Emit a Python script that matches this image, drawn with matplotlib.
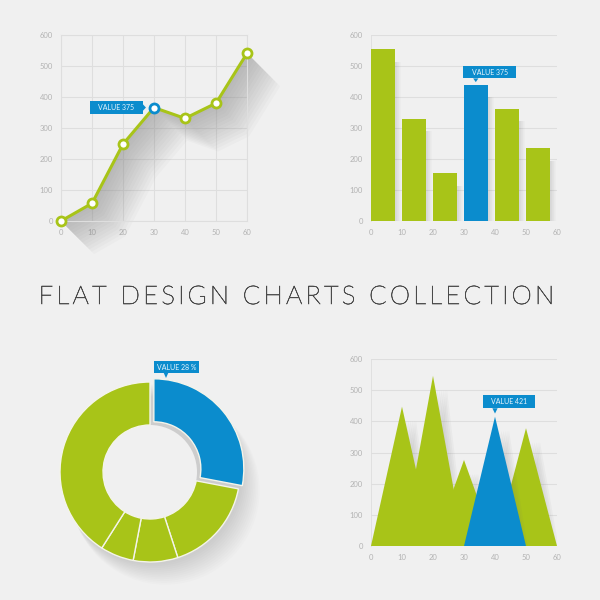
import matplotlib
matplotlib.use("Agg")
import matplotlib.pyplot as plt
from matplotlib.patches import Polygon, Rectangle
import matplotlib.transforms as mtransforms
import matplotlib.patheffects as pe
import numpy as np

# ---------------- data ----------------
line_x = [0, 10, 20, 30, 40, 50, 60]
line_y = [0, 57, 248, 366, 331, 380, 541]
line_highlight = 3

bar_x = [0, 10, 20, 30, 40, 50]
bar_h = [554, 330, 154, 439, 361, 234]
bar_highlight = 3

donut_vals = [28, 17, 8, 6, 41]
donut_highlight = 0

peak_x = [10, 20, 30, 40, 50]
peak_h = [447, 546, 276, 415, 378]
peak_highlight = 3

x_ticks = [0, 10, 20, 30, 40, 50, 60]
y_ticks = [0, 100, 200, 300, 400, 500, 600]

label_line = "VALUE 375"
label_bar = "VALUE 375"
label_donut = "VALUE 28 %"
label_peak = "VALUE 421"
title = "FLAT DESIGN CHARTS COLLECTION"

# ---------------- style ----------------
BG = "#f0f0f0"
GREEN = "#a8c418"
BLUE = "#0b8ccd"
GRID = "#dedede"
TICK = "#b3b3b3"
FONT = ["Lato", "DejaVu Sans"]

plt.rcParams["font.family"] = FONT

fig = plt.figure(figsize=(6, 6), dpi=100, facecolor=BG)


def base_axes(rect):
    ax = fig.add_axes(rect)
    ax.set_facecolor("none")
    ax.set_xlim(0, 60)
    ax.set_ylim(0, 600)
    ax.set_xticks(x_ticks)
    ax.set_yticks(y_ticks)
    ax.tick_params(length=0, labelsize=5.5, labelcolor=TICK, pad=6)
    return ax


def tooltip(ax, x0, x1, y0, y1, text, px, py, direction="down"):
    ax.add_patch(Rectangle((x0, y0), x1 - x0, y1 - y0, facecolor=BLUE,
                           edgecolor="none", zorder=10, clip_on=False))
    if direction == "down":
        w = (x1 - x0) * 0.05
        tri = [(px - w, y0), (px + w, y0), (px, py)]
    else:
        h = (y1 - y0) * 0.25
        tri = [(x1, py - h), (x1, py + h), (px, py)]
    ax.add_patch(Polygon(tri, closed=True, facecolor=BLUE, edgecolor="none",
                         zorder=10, clip_on=False))
    ax.text((x0 + x1) / 2, (y0 + y1) / 2, text, color="#e6f4fc", fontsize=5,
            ha="center", va="center", zorder=11)


# ---------------- top-left: line chart ----------------
ax1 = base_axes([61 / 600, 1 - 221 / 600, 186 / 600, 186 / 600])
ax1.grid(True, color=GRID, linewidth=0.8)
ax1.set_axisbelow(True)
for s in ax1.spines.values():
    s.set_color(GRID)
    s.set_linewidth(0.8)

pts = np.column_stack([line_x, line_y])
n_layers = 14
fig.canvas.draw()
for i in range(1, n_layers + 1):
    d = i * 1.7 / 72.0
    off = mtransforms.ScaledTranslation(d, -d, fig.dpi_scale_trans)
    disp_orig = ax1.transData.transform(pts)
    disp_shift = (ax1.transData + off).transform(pts)
    verts = np.vstack([disp_orig, disp_shift[::-1]])
    verts_data = ax1.transData.inverted().transform(verts)
    ax1.add_patch(Polygon(verts_data, closed=True, facecolor="#808080",
                          edgecolor="none", alpha=0.045, zorder=1,
                          clip_on=False))

ax1.plot(line_x, line_y, color=GREEN, linewidth=2.2, zorder=3,
         solid_capstyle="round")
for i, (x, y) in enumerate(zip(line_x, line_y)):
    ec = BLUE if i == line_highlight else GREEN
    ax1.plot([x], [y], marker="o", markersize=6.5, markerfacecolor="white",
             markeredgecolor=ec, markeredgewidth=2, zorder=4, clip_on=False)

tooltip(ax1, 9.4, 26.4, 344, 387, label_line, 27.4,
        line_y[line_highlight], direction="right")

# ---------------- top-right: bar chart ----------------
ax2 = base_axes([371 / 600, 1 - 221 / 600, 186 / 600, 186 / 600])
ax2.yaxis.grid(True, color=GRID, linewidth=0.8)
ax2.set_axisbelow(True)
for k, s in ax2.spines.items():
    s.set_visible(k == "left")
    s.set_color(GRID)
    s.set_linewidth(0.6)

bw = 7.8
for j in range(8):
    for x, h in zip(bar_x, bar_h):
        ax2.add_patch(Rectangle((x + bw, 0), 0.22 * (j + 1), h - 40,
                                facecolor="#808080", edgecolor="none",
                                alpha=0.028, zorder=1))
colors2 = [BLUE if i == bar_highlight else GREEN for i in range(len(bar_x))]
ax2.bar(bar_x, bar_h, width=bw, align="edge", color=colors2, zorder=3)

tooltip(ax2, 29.8, 46.7, 460, 501, label_bar, 33.8, 448, direction="down")

# ---------------- title ----------------
THIN = "\u2009"
spaced_title = THIN.join(title)
fig.text(0.496, 1 - 297 / 600, spaced_title, ha="center", va="center",
         fontsize=18.5, color="#4a4a4a", fontweight="light",
         family=FONT,
         path_effects=[pe.withStroke(linewidth=0.45, foreground="#4a4a4a")])

# ---------------- bottom-left: donut ----------------
ax3 = fig.add_axes([30 / 600, 1 - 592 / 600, 240 / 600, 240 / 600])
ax3.set_xlim(-1.2, 1.2)
ax3.set_ylim(-1.2, 1.2)
ax3.set_aspect("equal")
ax3.axis("off")

for j in range(12):
    d = 0.02 + j * 0.012
    circ = plt.Circle((d, -d * 1.2), 0.9 + j * 0.004, facecolor="#7a7a7a",
                      edgecolor="none", alpha=0.022, zorder=0)
    ax3.add_patch(circ)
hole = plt.Circle((0, 0), 0.47, facecolor=BG, edgecolor="none", zorder=0.5)
ax3.add_patch(hole)

colors3 = [BLUE if i == donut_highlight else GREEN
           for i in range(len(donut_vals))]
explode = [0.05 if i == donut_highlight else 0 for i in range(len(donut_vals))]
wedges, _ = ax3.pie(donut_vals, colors=colors3, startangle=90,
                    counterclock=False, radius=0.9, explode=explode,
                    wedgeprops=dict(width=0.43, edgecolor="#f4f4ea",
                                    linewidth=1.0))
for w in wedges:
    w.set_zorder(2)
ax3.set_xlim(-1.2, 1.2)
ax3.set_ylim(-1.2, 1.2)
tooltip(ax3, 0.04, 0.49, 0.99, 1.11, label_donut, 0.16, 0.94,
        direction="down")

# ---------------- bottom-right: peaks ----------------
ax4 = base_axes([371 / 600, 1 - 546 / 600, 186 / 600, 187 / 600])
ax4.yaxis.grid(True, color=GRID, linewidth=0.8)
ax4.set_axisbelow(True)
for k, s in ax4.spines.items():
    s.set_visible(k == "left")
    s.set_color(GRID)
    s.set_linewidth(0.6)

order = [0, 1, 2, 4, 3]
for z, i in enumerate(order):
    x, h = peak_x[i], peak_h[i]
    for j in range(6):
        dx = 1.5 + j * 0.6
        ax4.add_patch(Polygon([(x + dx - 6, 0), (x + dx, h - 45),
                               (x + dx + 6, 0)], closed=True,
                              facecolor="#6f6f6f", edgecolor="none",
                              alpha=0.05, zorder=2 + z * 2))
    col = BLUE if i == peak_highlight else GREEN
    ax4.add_patch(Polygon([(x - 10, 0), (x, h), (x + 10, 0)], closed=True,
                          facecolor=col, edgecolor="none", zorder=3 + z * 2))

tooltip(ax4, 36.1, 53.0, 442, 485, label_peak, 40, 425, direction="down")

fig.savefig("out.png", dpi=100, facecolor=BG)
